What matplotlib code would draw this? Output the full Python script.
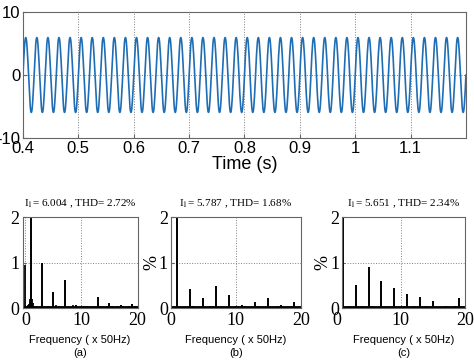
#Recreate current waveform plus three harmonic spectra
import numpy as np
import matplotlib
matplotlib.use('Agg')
import matplotlib.pyplot as plt

plt.rcParams['mathtext.fontset'] = 'stix'

#Data.
f_fund = 50.0                 #Hz
t_start, t_end = 0.4, 1.2
time_ticks = [0.4, 0.5, 0.6, 0.7, 0.8, 0.9, 1, 1.1]
time_tick_labels = ['0.4', '0.5', '0.6', '0.7', '0.8', '0.9', '1', '1.1']

orders = [1, 3, 5, 7, 9, 11, 13, 15, 17, 19]
# harmonic magnitude in % of fundamental (fundamental drawn off the scale)
harm_a = [100, 1.00, 0.36, 0.62, 0.06, 0.05, 0.25, 0.10, 0.07, 0.08]
harm_b = [100, 0.41, 0.23, 0.49, 0.28, 0.07, 0.14, 0.22, 0.06, 0.14]
harm_c = [100, 0.51, 0.90, 0.59, 0.44, 0.30, 0.25, 0.145, 0.04, 0.22]

# other components: DC and the spread round the fundamental in (a)
extra_freq_a = [0, 0.7, 0.8, 0.9, 1.1, 1.2, 1.3]
extra_val_a = [0.95, 0.08, 0.14, 0.19, 0.59, 0.19, 0.10]

# small noise floor every half order, 0.5 .. 19.5
floor_a = [0.06, 0.15, 0.04, 0.03, 0.02, 0.03, 0.02, 0.05, 0.03, 0.03,
           0.06, 0.04, 0.03, 0.03, 0.02, 0.03, 0.07, 0.04, 0.02, 0.03,
           0.05, 0.04, 0.03, 0.02, 0.03, 0.04, 0.05, 0.03, 0.04, 0.06,
           0.05, 0.03, 0.05, 0.07, 0.04, 0.03, 0.05, 0.08, 0.04]
floor_b = [0.03, 0.04, 0.03, 0.02, 0.03, 0.02, 0.04, 0.03, 0.02, 0.03,
           0.02, 0.04, 0.05, 0.03, 0.02, 0.03, 0.02, 0.04, 0.03, 0.05,
           0.03, 0.02, 0.04, 0.03, 0.02, 0.03, 0.04, 0.02, 0.03, 0.05,
           0.03, 0.02, 0.04, 0.05, 0.03, 0.02, 0.04, 0.06, 0.03]
floor_c = [0.04, 0.03, 0.02, 0.04, 0.03, 0.02, 0.03, 0.04, 0.03, 0.02,
           0.05, 0.03, 0.02, 0.04, 0.03, 0.02, 0.03, 0.04, 0.02, 0.03,
           0.04, 0.03, 0.02, 0.05, 0.03, 0.02, 0.03, 0.04, 0.02, 0.03,
           0.02, 0.03, 0.02, 0.04, 0.03, 0.02, 0.05, 0.03, 0.04]
floor_freq = np.arange(0.5, 20, 0.5)

titles = [r'I$_1$= 6.004 , THD= 2.72%',
          r'I$_1$= 5.787 , THD= 1.68%',
          r'I$_1$= 5.651 , THD= 2.34%']
I1_a = 6.004
panel_tags = ['(a)', '(b)', '(c)']

#Waveform built from the fundamental and harmonics of spectrum (a).
t = np.linspace(t_start, t_end, 8000)
wave = np.zeros_like(t)
for n, h in zip(orders, harm_a):
    wave += I1_a * h / 100.0 * np.sin(2 * np.pi * f_fund * n * t)

fig = plt.figure(figsize=(4.74, 3.6), dpi=100)

sans = ['Liberation Sans', 'DejaVu Sans']
serif = ['Liberation Serif', 'DejaVu Serif']
narrow = ['Liberation Sans Narrow', 'Liberation Sans', 'DejaVu Sans']
spine_col = '#666666'

#Top plot.
ax = fig.add_axes([0.0485, 0.6167, 0.9345, 0.35])
ax.plot(t, wave, color='#1f6db4', lw=1.2)
ax.set_xlim(t_start, t_end)
ax.set_ylim(-10, 10)
ax.set_xticks(time_ticks)
ax.set_xticklabels(time_tick_labels, family=sans, fontsize=12)
ax.set_yticks([-10, 0, 10])
ax.set_yticklabels(['-10', '0', '10'], family=sans, fontsize=12)
ax.tick_params(direction='in', length=3, pad=2, color=spine_col)
ax.grid(True, ls=':', color='#808080', lw=0.7)
for s in ax.spines.values():
    s.set_color(spine_col)
ax.set_xlabel('Time (s)', family=sans, fontsize=13, labelpad=0)

#Bottom spectra.
boxes = [[0.0475, 0.1444, 0.2426, 0.2528],
         [0.3602, 0.1444, 0.2743, 0.2528],
         [0.7215, 0.1444, 0.2595, 0.2528]]
xlims = [(-0.5, 20), (0, 20), (0.85, 20)]
harms = [harm_a, harm_b, harm_c]
floors = [floor_a, floor_b, floor_c]

for i in range(3):
    bx = fig.add_axes(boxes[i])
    bx.vlines(floor_freq, 0, floors[i], color='black', lw=1.2)
    bx.vlines(orders, 0, harms[i], color='black', lw=1.4)
    if i == 0:
        bx.vlines(extra_freq_a, 0, extra_val_a, color='black', lw=1.3)
    bx.axhline(0, color='black', lw=3.5)
    bx.set_xlim(xlims[i])
    bx.set_ylim(0, 2)
    bx.set_yticks([0, 1, 2])
    bx.set_yticklabels(['0', '1', '2'], family=serif, fontsize=13)
    if i == 2:
        bx.set_xticks([10, 20])
        bx.set_xticklabels(['10', '20'], family=serif, fontsize=13)
        bx.annotate('0', xy=(0, 0), xycoords=('data', 'axes fraction'),
                    xytext=(0, -3), textcoords='offset points',
                    ha='center', va='top', family=serif, fontsize=13,
                    annotation_clip=False)
    else:
        bx.set_xticks([0, 10, 20])
        bx.set_xticklabels(['0', '10', '20'], family=serif, fontsize=13)
    bx.tick_params(direction='in', length=2, pad=3, color=spine_col)
    bx.tick_params(axis='y', pad=2)
    bx.grid(True, ls=':', color='#808080', lw=0.7)
    for s in bx.spines.values():
        s.set_color(spine_col)
    bx.set_title(titles[i], family=serif, fontsize=8, pad=8)
    bx.set_xlabel('Frequency ( x 50Hz)\n' + panel_tags[i], family=narrow,
                  fontsize=8, labelpad=4, linespacing=1.4)
    if i > 0:
        bx.set_ylabel('%', family=serif, fontsize=13, labelpad=-1)

fig.savefig('out.png', dpi=100)
